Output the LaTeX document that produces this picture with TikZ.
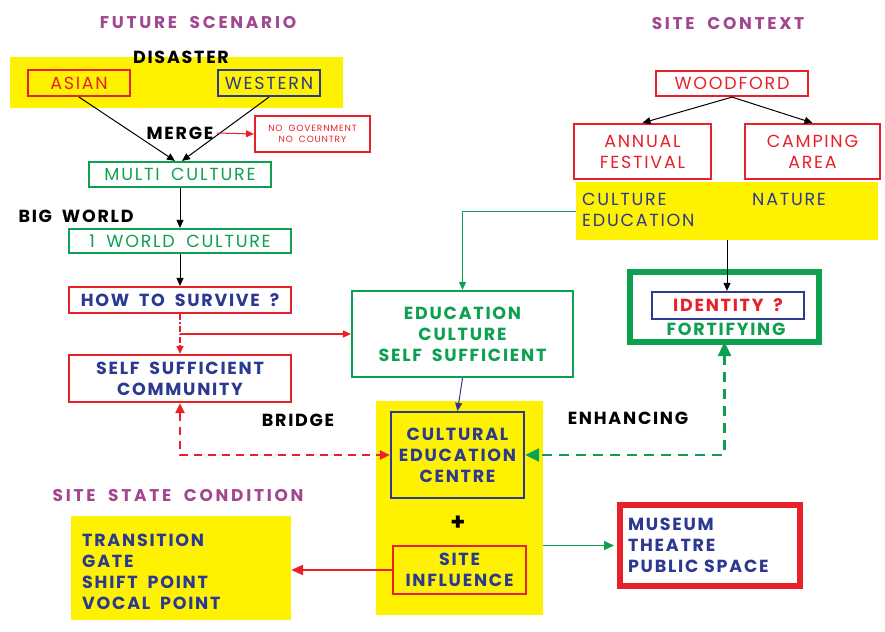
\documentclass[tikz,border=0pt]{standalone}
\usepackage{fontspec}
\setmainfont{Poppins}
\newfontfamily\spc{Poppins}[LetterSpace=10, WordSpace=1.8]
\newfontfamily\spcw{Poppins}[LetterSpace=16, WordSpace=2]
\usetikzlibrary{arrows.meta}
\definecolor{cred}{RGB}{232,32,42}
\definecolor{cgreen}{RGB}{12,160,80}
\definecolor{cnavy}{RGB}{43,57,144}
\definecolor{cyel}{RGB}{255,242,0}
\definecolor{cpurp}{RGB}{161,70,143}
\tikzset{
  bx/.style={draw, line width=2.2pt, inner sep=0pt, align=center},
  thk/.style={draw, line width=6pt, inner sep=0pt, align=center},
  ybox/.style={fill=cyel, inner sep=0pt},
  reg/.style={font=\spc\fontsize{17.5}{21}\selectfont},
  bld/.style={font=\spc\bfseries\fontsize{17.5}{21}\selectfont},
  ttl/.style={font=\spcw\bfseries\fontsize{17}{20}\selectfont, text=cpurp},
  blk/.style={draw=black, line width=1pt, -{Triangle[length=8pt,width=7pt]}},
}
\begin{document}
\begin{tikzpicture}[x=1pt,y=-1pt]
\useasboundingbox (0,0) rectangle (885,631);
% titles
\node[ttl] (t1) at (198,23) {FUTURE SCENARIO};
\node[ttl] (t2) at (728,24) {SITE CONTEXT};
\node[ttl] (t3) at (178,496) {SITE STATE CONDITION};
% top-left
\node[ybox, minimum width=333, minimum height=51] (ytop) at (176.5,82.5) {};
\node[bld, text=black] (disaster) at (181,57) {DISASTER};
\node[bx, draw=cred, text=cred, reg, minimum width=102, minimum height=26] (asian) at (79,83) {ASIAN};
\node[bx, draw=cnavy, text=cnavy, reg, minimum width=102, minimum height=26] (western) at (269,83) {WESTERN};
\node[bld, text=black] (merge) at (180,133) {MERGE};
\node[bx, draw=cred, text=cred, font=\spc\fontsize{9}{11}\selectfont, minimum width=115, minimum height=36] (nogov) at (312.5,134) {NO GOVERNMENT\\NO COUNTRY};
\node[bx, draw=cgreen, text=cgreen, reg, minimum width=182, minimum height=25] (multi) at (180,174.5) {MULTI CULTURE};
\node[bld, text=black, anchor=west] (big) at (15,216) {BIG WORLD};
\node[bx, draw=cgreen, text=cgreen, reg, minimum width=222, minimum height=24] (world) at (180,241) {1 WORLD CULTURE};
\node[bx, draw=cred, text=cnavy, bld, minimum width=222, minimum height=26] (survive) at (180,300) {HOW TO SURVIVE ?};
\node[bx, draw=cred, text=cnavy, bld, minimum width=222, minimum height=47] (selfsuf) at (180,378.5) {SELF SUFFICIENT\\COMMUNITY};
\node[bld, text=black] (bridge) at (298,420) {BRIDGE};
% middle
\node[bx, draw=cgreen, text=cgreen, bld, minimum width=221, minimum height=86] (educ) at (462.5,334) {EDUCATION\\CULTURE\\SELF SUFFICIENT};
\node[ybox, minimum width=167, minimum height=214] (ymid) at (459.5,508) {};
\node[bx, draw=cnavy, text=cnavy, bld, minimum width=133, minimum height=86] (cec) at (457.5,455) {CULTURAL\\EDUCATION\\CENTRE};
\node[font=\bfseries\fontsize{24}{24}\selectfont] (plus) at (458,523) {+};
\node[bx, draw=cred, text=cnavy, bld, minimum width=133, minimum height=48] (siteinf) at (459.5,570) {SITE\\INFLUENCE};
\node[bld, text=black] (enh) at (628,418) {ENHANCING};
% right
\node[bx, draw=cred, text=cred, reg, minimum width=152, minimum height=25] (wood) at (732,83.5) {WOODFORD};
\node[bx, draw=cred, text=cred, reg, minimum width=137, minimum height=55] (annual) at (642.5,151.5) {ANNUAL\\FESTIVAL};
\node[bx, draw=cred, text=cred, reg, minimum width=135, minimum height=55] (camping) at (812.5,151.5) {CAMPING\\AREA};
\node[ybox, minimum width=302, minimum height=58] (yright) at (727,211) {};
\node[reg, text=cnavy, anchor=north west, align=left, inner sep=0pt] (cultedu) at (582,193) {CULTURE\\EDUCATION};
\node[reg, text=cnavy, anchor=north west, inner sep=0pt] (nature) at (752,193) {NATURE};
\node[thk, draw=cgreen, minimum width=189, minimum height=70] (idout) at (724.5,307) {};
\node[bx, draw=cnavy, text=cred, bld, minimum width=152, minimum height=27] (idin) at (728,305.5) {IDENTITY ?};
\node[bld, text=cgreen] (fort) at (726,329) {FORTIFYING};
\node[thk, draw=cred, text=cnavy, bld, align=left, minimum width=180, minimum height=81, text width=164] (museum) at (710,545.5) {MUSEUM\\THEATRE\\PUBLIC SPACE};
% bottom-left
\node[ybox, minimum width=220, minimum height=104] (yleft) at (181,568) {};
\node[bld, text=cnavy, anchor=west, align=left, inner sep=0pt] (trans) at (82,572) {TRANSITION\\GATE\\SHIFT POINT\\VOCAL POINT};
% connectors
\draw[blk] (asian.south) -- ([xshift=-5pt]multi.north);
\draw[blk] (western.south) -- ([xshift=2pt]multi.north);
\draw[cred, line width=1pt, -{Triangle[length=8pt,width=7pt]}] (merge.east) -- (nogov.west);
\draw[blk] (multi.south) -- (world.north);
\draw[blk] (world.south) -- (survive.north);
\draw[cred, line width=1.2pt, dash pattern=on 6pt off 2pt on 1.5pt off 2pt, -{Triangle[length=8pt,width=7pt]}] (survive.south) -- (selfsuf.north);
\coordinate (br) at (180,334);
\draw[cred, line width=1.2pt, -{Triangle[length=8pt,width=7pt]}] (br) -- (educ.west);
\draw[cgreen, line width=1pt, -{Triangle[length=8pt,width=7pt]}] (yright.west) -| (educ.north);
\draw[cnavy, line width=1pt, -{Triangle[length=8pt,width=7pt]}] (educ.south) -- (cec.north);
\draw[cred, line width=2pt, dash pattern=on 8pt off 6pt, {Triangle[length=10pt,width=9pt]}-{Triangle[length=10pt,width=9pt]}] (selfsuf.south) |- (cec.west);
\draw[cgreen, line width=2.5pt, dash pattern=on 10pt off 7pt, {Triangle[length=14pt,width=13pt]}-{Triangle[length=14pt,width=13pt]}] ([yshift=3pt]idout.south) |- (cec.east);
\draw[blk] (yright.south) -- (yright.south |- idin.north);
\draw[blk] (wood.south) -- (annual.north);
\draw[blk] (wood.south) -- (camping.north);
\draw[cred, line width=2.5pt, -{Triangle[length=12pt,width=10pt]}] (siteinf.west) -- (siteinf.west -| yleft.east);
\draw[cgreen, line width=1.5pt, -{Triangle[length=10pt,width=9pt]}] (ymid.east |- museum.west) -- ([xshift=-3pt]museum.west);
\end{tikzpicture}
\end{document}
